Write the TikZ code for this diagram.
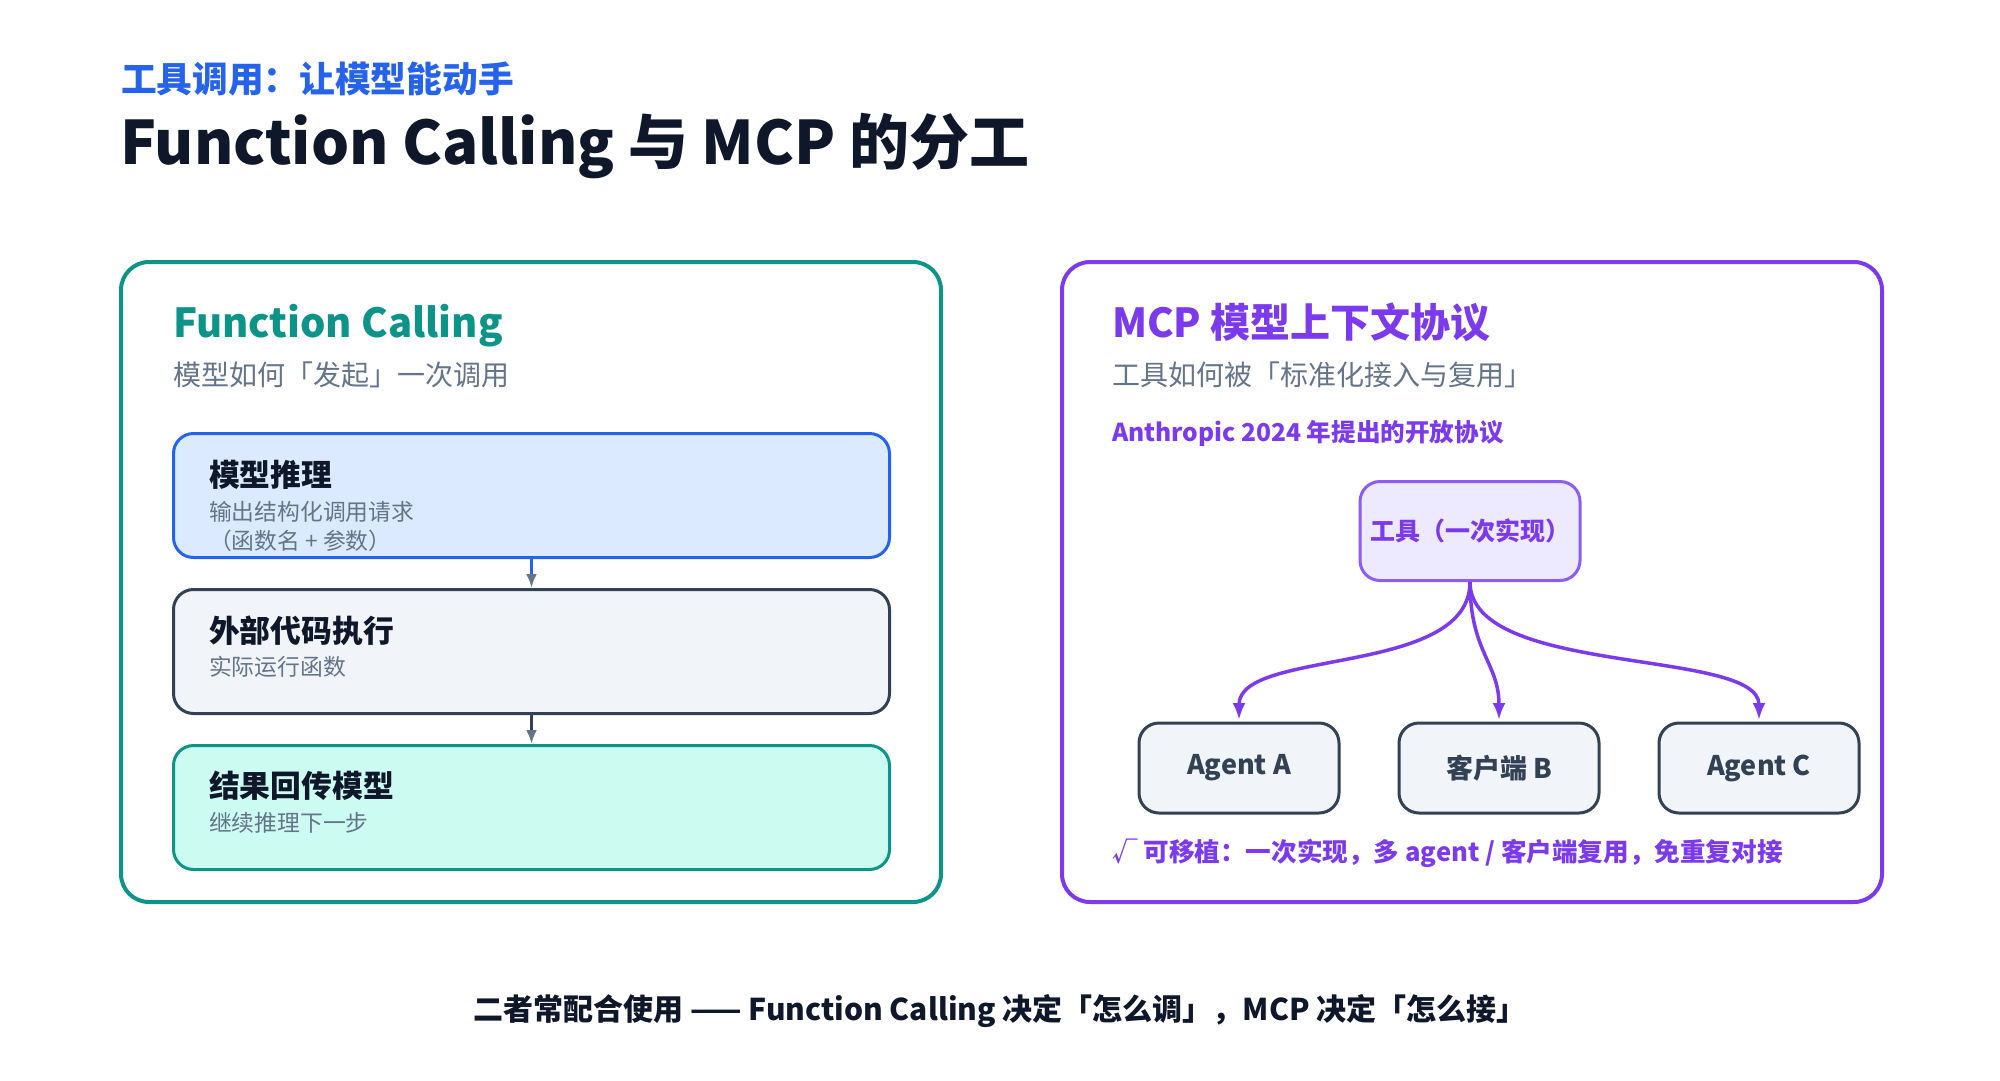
\documentclass[tikz,border=0pt]{standalone}
\usepackage{fontspec}
\setmainfont{Noto Sans CJK SC}
\usetikzlibrary{positioning}
\usetikzlibrary{calc}
\usetikzlibrary{arrows.meta}
\definecolor{ink}{HTML}{0F172A}
\definecolor{slate}{HTML}{64748B}
\definecolor{slatedark}{HTML}{334155}
\definecolor{fcteal}{HTML}{0D9488}
\definecolor{mcppurple}{HTML}{7C3AED}
\definecolor{toolline}{HTML}{8B5CF6}
\definecolor{toolfill}{HTML}{EDE9FE}
\definecolor{bluefill}{HTML}{DBEAFE}
\definecolor{blueline}{HTML}{2563EB}
\definecolor{grayfill}{HTML}{F1F5F9}
\definecolor{mintfill}{HTML}{CCFBF1}
\tikzset{
	txt/.style={anchor=base west, inner sep=0pt, outer sep=0pt},
	kicker/.style={txt, text=blueline, font=\fontsize{35.7}{40}\selectfont\bfseries},
	headline/.style={txt, text=ink, font=\fontsize{60}{70}\selectfont\bfseries},
	paneltitle/.style={txt, font=\fontsize{40}{48}\selectfont\bfseries},
	panelsub/.style={txt, text=slate, font=\fontsize{28}{32}\selectfont},
	boxtitle/.style={txt, text=ink, font=\fontsize{30.8}{34}\selectfont\bfseries},
	boxsub/.style={txt, text=slate, font=\fontsize{22.8}{26}\selectfont},
	panel/.style={draw, line width=4pt, rounded corners=28pt, anchor=north west,
		minimum width=820pt, minimum height=640pt, inner sep=0pt},
	stepbox/.style={draw, line width=3pt, rounded corners=20pt, anchor=north west,
		minimum width=716pt, minimum height=124pt, inner sep=0pt},
	toolbox/.style={draw=toolline, fill=toolfill, line width=3pt, rounded corners=20pt,
		minimum width=220pt, minimum height=99pt, text=mcppurple,
		font=\fontsize{25}{30}\selectfont\bfseries},
	agentbox/.style={draw=slatedark, fill=grayfill, line width=3pt, rounded corners=20pt,
		minimum width=200pt, minimum height=90pt, outer sep=0pt, text=slatedark,
		font=\fontsize{27}{30}\selectfont\bfseries},
	stepflow/.style={line width=3pt, -{Latex[length=14pt, width=11pt, color=slate]}},
	fanout/.style={line width=3.5pt, draw=mcppurple, shorten >=3pt,
		-{Latex[length=17pt, width=13pt]}},
}

\begin{document}
\begin{tikzpicture}[x=1pt, y=-1pt]
	\useasboundingbox[fill=white] (0,0) rectangle (2000,1080);

	% Title
	\node[kicker] (kicker) at (121,92) {工具调用：让模型能动手};
	\node[headline] (headline) at (120,164) {Function Calling 与 MCP 的分工};

	% Function Calling
	\node[panel, draw=fcteal] (fcpanel) at (119,260) {};
	\node[paneltitle, text=fcteal] (fctitle) at (173,337) {Function Calling};
	\node[panelsub] (fcsub) at (173,385) {模型如何「发起」一次调用};

	\node[stepbox, fill=bluefill, draw=blueline] (infer) at (172,432) {};
	\node[boxtitle] (infertitle) at ($(infer.north west)+(37,54)$) {模型推理};
	\node[boxsub] (infersub) at ($(infer.north west)+(37,88)$) {输出结构化调用请求};
	\node[boxsub] (inferargs) at ($(infer.north west)+(37,117)$) {（函数名 + 参数）};

	\node[stepbox, fill=grayfill, draw=slatedark] (exec) at (172,588) {};
	\node[boxtitle] (exectitle) at ($(exec.north west)+(37,54)$) {外部代码执行};
	\node[boxsub] (execsub) at ($(exec.north west)+(37,87)$) {实际运行函数};

	\node[stepbox, fill=mintfill, draw=fcteal] (back) at (172,744) {};
	\node[boxtitle] (backtitle) at ($(back.north west)+(37,53)$) {结果回传模型};
	\node[boxsub] (backsub) at ($(back.north west)+(37,87)$) {继续推理下一步};

	\draw[stepflow, draw=blueline] (infer.south) -- (exec.north);
	\draw[stepflow, draw=slatedark] (exec.south) -- (back.north);

	% MCP
	\node[panel, draw=mcppurple] (mcppanel) at (1060,260) {};
	\node[paneltitle, text=mcppurple] (mcptitle) at (1112,337) {MCP 模型上下文协议};
	\node[panelsub] (mcpsub) at (1112,385) {工具如何被「标准化接入与复用」};
	\node[txt, text=mcppurple, font=\fontsize{24.6}{30}\selectfont\bfseries] (origin) at (1112,441)
		{Anthropic 2024 年提出的开放协议};

	\node[toolbox] (tool) at (1470,531) {工具（一次实现）};
	\node[agentbox] (agentA) at (1239,768) {Agent A};
	\node[agentbox, right=60pt of agentA] (clientB) {客户端 B};
	\node[agentbox, right=60pt of clientB] (agentC) {Agent C};

	\draw[fanout] (tool.south) .. controls +(0,95) and +(0,-75) .. (agentA.north);
	\draw[fanout] (tool.south) .. controls +(0,70) and +(0,-60) .. (clientB.north);
	\draw[fanout] (tool.south) .. controls +(0,95) and +(0,-75) .. (agentC.north);

	\node[txt, text=mcppurple, font=\fontsize{25.6}{30}\selectfont\bfseries] (portable) at (1112,861)
		{√ 可移植：一次实现，多 agent / 客户端复用，免重复对接};

	% Footer
	\node[anchor=base, inner sep=0pt, text=ink, font=\fontsize{30}{34}\selectfont\bfseries] (summary) at (1000,1020)
		{二者常配合使用 —— Function Calling 决定「怎么调」，MCP 决定「怎么接」};
\end{tikzpicture}
\end{document}
